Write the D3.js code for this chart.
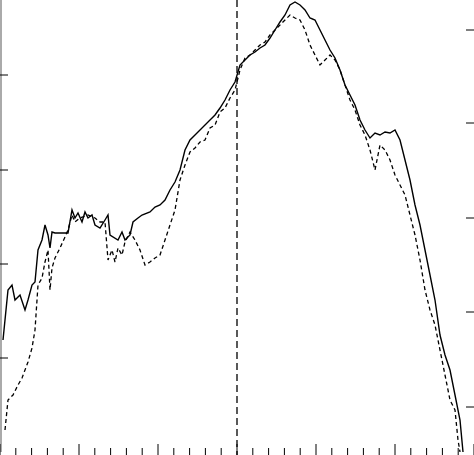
<!DOCTYPE html><html><head><script src="https://cdn.jsdelivr.net/npm/d3@7"></script>
<style>body{margin:0;background:#fff}</style></head><body><svg width="474" height="455"></svg><script>
const solidX=[3,8,12,15,20,25,28,32,35,38,42,45,48,50,52,55,68,72,75,78,82,85,88,92,95,100,105,108,110,118,122,125,130,133,138,142,150,155,160,165,170,175,180,185,190,195,200,205,210,215,220,225,230,235,240,245,250,255,260,265,270,275,280,285,290,295,300,305,310,315,320,325,330,335,340,345,350,355,360,365,370,375,380,385,390,395,400,405,410,415,420,425,430,435,440,445,450,455,460,463];
const solidY=[340,290,285,300,295,310,300,285,282,250,240,225,235,248,232,233,233,210,218,213,222,212,218,215,225,228,220,215,235,240,232,240,235,222,218,215,212,207,205,200,190,182,170,150,140,135,130,125,120,115,108,100,90,82,65,60,55,52,48,45,38,30,22,15,5,2,5,10,18,20,30,40,50,58,70,85,95,105,120,130,138,133,135,132,133,130,140,160,180,205,225,250,275,300,335,355,370,395,420,452].map(v=>452-v);
const dashX=[5,8,13,18,22,25,28,32,35,38,42,45,48,50,52,55,60,65,68,72,75,80,88,95,100,105,108,112,115,118,122,125,130,135,140,145,150,155,160,165,170,175,180,185,190,195,200,205,210,215,220,225,230,235,240,245,250,255,260,265,270,275,280,285,290,295,300,305,310,315,320,325,330,335,340,345,350,355,360,365,370,375,380,385,390,395,400,405,410,415,420,425,430,435,440,445,450,455,458,460];
const dashY=[430,400,395,385,378,370,362,348,330,285,278,262,250,290,268,258,248,237,230,215,222,218,215,218,222,222,260,250,262,248,255,242,232,240,250,265,262,258,255,240,225,210,180,165,152,148,142,140,128,125,112,108,98,90,70,58,55,50,45,42,35,30,25,20,15,18,20,30,45,55,65,60,55,60,70,85,100,110,125,135,150,170,145,150,160,175,185,195,215,235,260,290,310,325,350,375,400,410,440,452].map(v=>452-v);
const leftTicks=[377,282,188,94];
const rightTicks=[422,329,234,140,45];
const bottomTicks=d3.range(0,31);
const svg=d3.select("svg");
const x=d3.scaleLinear().domain([0,474]).range([0,474]);
const y=d3.scaleLinear().domain([0,452]).range([452,0]);
const xt=d3.scaleLinear().domain([0,30]).range([0,474]);
svg.append("line").attr("x1",1).attr("x2",1).attr("y1",0).attr("y2",452).attr("stroke","#aaa").attr("stroke-width",2);
svg.append("g").selectAll("line").data(leftTicks).join("line").attr("x1",0).attr("x2",8).attr("y1",d=>y(d)).attr("y2",d=>y(d)).attr("stroke","#000");
svg.append("g").selectAll("line").data(rightTicks).join("line").attr("x1",466).attr("x2",474).attr("y1",d=>y(d)).attr("y2",d=>y(d)).attr("stroke","#000");
svg.append("g").selectAll("line").data(bottomTicks).join("line").attr("x1",d=>xt(d)).attr("x2",d=>xt(d)).attr("y1",455).attr("y2",d=>d%5===0?444:448).attr("stroke","#000");
svg.append("line").attr("x1",x(237)).attr("x2",x(237)).attr("y1",0).attr("y2",455).attr("stroke","#000").attr("stroke-width",1.3).attr("stroke-dasharray","7,4");
const line=d3.line().x(d=>x(d[0])).y(d=>y(d[1]));
svg.append("path").datum(solidX.map((v,i)=>[v,solidY[i]])).attr("d",line).attr("fill","none").attr("stroke","#000").attr("stroke-width",1.4);
svg.append("path").datum(dashX.map((v,i)=>[v,dashY[i]])).attr("d",line).attr("fill","none").attr("stroke","#000").attr("stroke-width",1.3).attr("stroke-dasharray","4,3");
</script></body></html>
